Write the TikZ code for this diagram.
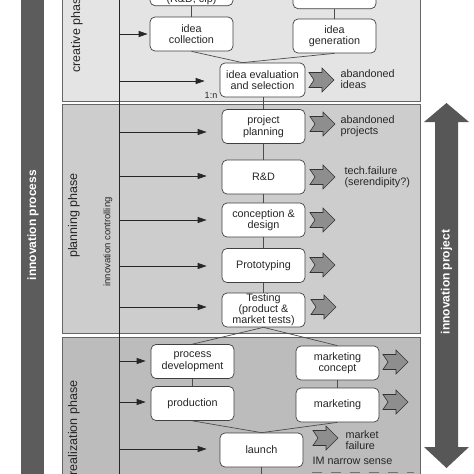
\documentclass[tikz,border=0pt]{standalone}
\usepackage{fontspec}
\setmainfont{Liberation Sans}
\usetikzlibrary{arrows.meta,calc}
\definecolor{creafill}{HTML}{E4E4E4}
\definecolor{planfill}{HTML}{CDCDCD}
\definecolor{realfill}{HTML}{BCBCBC}
\definecolor{barcol}{HTML}{5C5C5C}
\definecolor{bigarrow}{HTML}{575757}
\definecolor{chevfill}{HTML}{8E8E8E}
\tikzset{
  box/.style={draw=black!75, fill=white, rounded corners=5pt, minimum width=83pt, minimum height=34pt,
    inner sep=1pt, align=center, font=\fontsize{10.8}{11.5}\selectfont, line width=0.7pt, text=black!85},
  link/.style={draw=black!70, line width=0.7pt},
  ctl/.style={draw=black!85, line width=0.7pt, -{Triangle[length=9pt,width=6pt]}},
  panel/.style={draw=black!60, line width=0.8pt},
  lbl/.style={align=left, anchor=west, font=\fontsize{10.8}{11.5}\selectfont, text=black!85},
  phaselbl/.style={rotate=90, font=\fontsize{12.5}{14}\selectfont, text=black!85},
  whitelbl/.style={rotate=90, font=\bfseries\fontsize{12}{14}\selectfont, text=white},
  garrow/.pic={\filldraw[fill=chevfill, draw=black!80, line width=0.6pt]
     (0,-7.5) -- (13,-7.5) -- (13,-12) -- (25,0) -- (13,12) -- (13,7.5) -- (0,7.5) -- (5,0) -- cycle;}
}
\begin{document}
\begin{tikzpicture}[x=1pt,y=-1pt]
\useasboundingbox (0,0) rectangle (474,474);
\clip (0,0) rectangle (474,474);
\fill[white] (0,0) rectangle (474,474);

% left bar
\fill[barcol] (21,-5) rectangle (44,480);
\node[whitelbl] (ip) at (33,225) {innovation process};

% panels
\filldraw[panel, fill=creafill] (62,-5) rectangle (420,101);
\filldraw[panel, fill=planfill] (62,104) rectangle (420,333);
\filldraw[panel, fill=realfill] (62,337) rectangle (420,480);

% control line
\coordinate (ctop) at (119,-5);
\coordinate (cbot) at (119,480);
\draw[draw=black!85, line width=0.7pt] (ctop) -- (cbot);

% phase labels
\node[phaselbl] (ph1) at (77,32) {creative phase};
\node[phaselbl] (ph2) at (74,215.5) {planning phase};
\node[phaselbl] (ph3) at (74,428) {realization phase};
\node[rotate=90, font=\fontsize{9.5}{11}\selectfont, text=black!85] (ictl) at (108,242) {innovation controlling};

% boxes
\node[box, minimum height=12pt, inner sep=0pt, anchor=south] (rdcip) at (191.5,6) {(R\&D, cip)};
\node[box, minimum height=20pt, anchor=south] (topr) at (334.5,9) {};
\node[box] (coll) at (191.5,34) {idea\\collection};
\node[box] (gen) at (334.5,36) {idea\\generation};
\node[box, minimum width=85pt] (eval) at (262.5,80) {idea evaluation\\and selection};
\node[box] (pp) at (263.5,126.5) {project\\planning};
\node[box] (rd) at (263.5,177) {R\&D};
\node[box] (cd) at (263.5,220) {conception \&\\design};
\node[box] (proto) at (263.5,265.5) {Prototyping};
\node[box, font=\fontsize{10.8}{10.8}\selectfont] (test) at (263.5,310) {Testing\\(product \&\\market tests)};
\node[box] (pdev) at (192.5,361.5) {process\\development};
\node[box] (prod) at (192.5,403.5) {production};
\node[box] (mconc) at (337.5,363) {marketing\\concept};
\node[box] (mkt) at (337.5,405) {marketing};
\node[box] (launch) at (261.5,450) {launch};

% links between boxes
\draw[link] (rdcip) -- (coll);
\draw[link] (topr) -- (gen);
\draw[link] (coll.south) -- ($(eval.north)+(-20,0)$);
\draw[link] (gen.south) -- ($(eval.north)+(-20,0)$);
\draw[link] (eval.south -| pp.north) -- (pp.north);
\draw[link] (pp) -- (rd);
\draw[link] (rd) -- (cd);
\draw[link] (cd) -- (proto);
\draw[link] (proto) -- (test);
\draw[link] (test.south) -- (pdev.north);
\draw[link] (test.south) -- (mconc.north);
\draw[link] (pdev) -- (prod);
\draw[link] (mconc) -- (mkt);
\draw[link] (prod.south) -- (launch.north);
\draw[link] (mkt.south) -- (launch.north);
\coordinate (lend) at (261.5,480);
\draw[link] (launch.south) -- (lend);

% control arrows
\coordinate (k1) at (119,34);
\coordinate (k2) at (119,81);
\coordinate (k3) at (119,132);
\coordinate (k4) at (119,176);
\coordinate (k5) at (119,220);
\coordinate (k6) at (119,266);
\coordinate (k7) at (119,307);
\coordinate (k8) at (119,361);
\coordinate (k9) at (119,402);
\coordinate (k10) at (119,449);
\draw[ctl, shorten >=2pt] (k1) -- (k1 -| coll.west);
\draw[ctl, shorten >=15pt] (k2) -- (k2 -| eval.west);
\draw[ctl, shorten >=15pt] (k3) -- (k3 -| pp.west);
\draw[ctl, shorten >=15pt] (k4) -- (k4 -| rd.west);
\draw[ctl, shorten >=15pt] (k5) -- (k5 -| cd.west);
\draw[ctl, shorten >=15pt] (k6) -- (k6 -| proto.west);
\draw[ctl, shorten >=15pt] (k7) -- (k7 -| test.west);
\draw[ctl, shorten >=5pt] (k8) -- (k8 -| pdev.west);
\draw[ctl, shorten >=5pt] (k9) -- (k9 -| prod.west);
\draw[ctl, shorten >=13pt] (k10) -- (k10 -| launch.west);
\node[font=\fontsize{9}{10}\selectfont, text=black!85] (ratio) at (211,95) {1:n};

% chevrons
\pic at (309,80) {garrow};
\pic at (310,124) {garrow};
\pic at (310,177) {garrow};
\pic at (310,220) {garrow};
\pic at (310,265) {garrow};
\pic at (311,307) {garrow};
\pic at (383,362) {garrow};
\pic at (383,402) {garrow};
\pic at (313,438) {garrow};

% labels
\node[lbl] (t1) at (337,79) {abandoned\\ideas};
\node[lbl] (t2) at (337,126) {abandoned\\projects};
\node[lbl] (t3) at (341,177) {tech.failure\\(serendipity?)};
\node[lbl] (t4) at (342,440) {market\\failure};
\node[lbl] (t5) at (309,461) {IM narrow sense};
\coordinate (d1) at (312,472);
\coordinate (d2) at (414,472);
\draw[draw=black!55, line width=1pt, dash pattern=on 10pt off 9pt] (d1) -- (d2);

% big double arrow
\fill[bigarrow] (446.5,103) -- (469,122) -- (458,122) -- (458,447) -- (469,447) -- (446.5,468)
  -- (424,447) -- (435,447) -- (435,122) -- (424,122) -- cycle;
\node[whitelbl] (iproj) at (446.5,282) {innovation project};
\end{tikzpicture}
\end{document}
